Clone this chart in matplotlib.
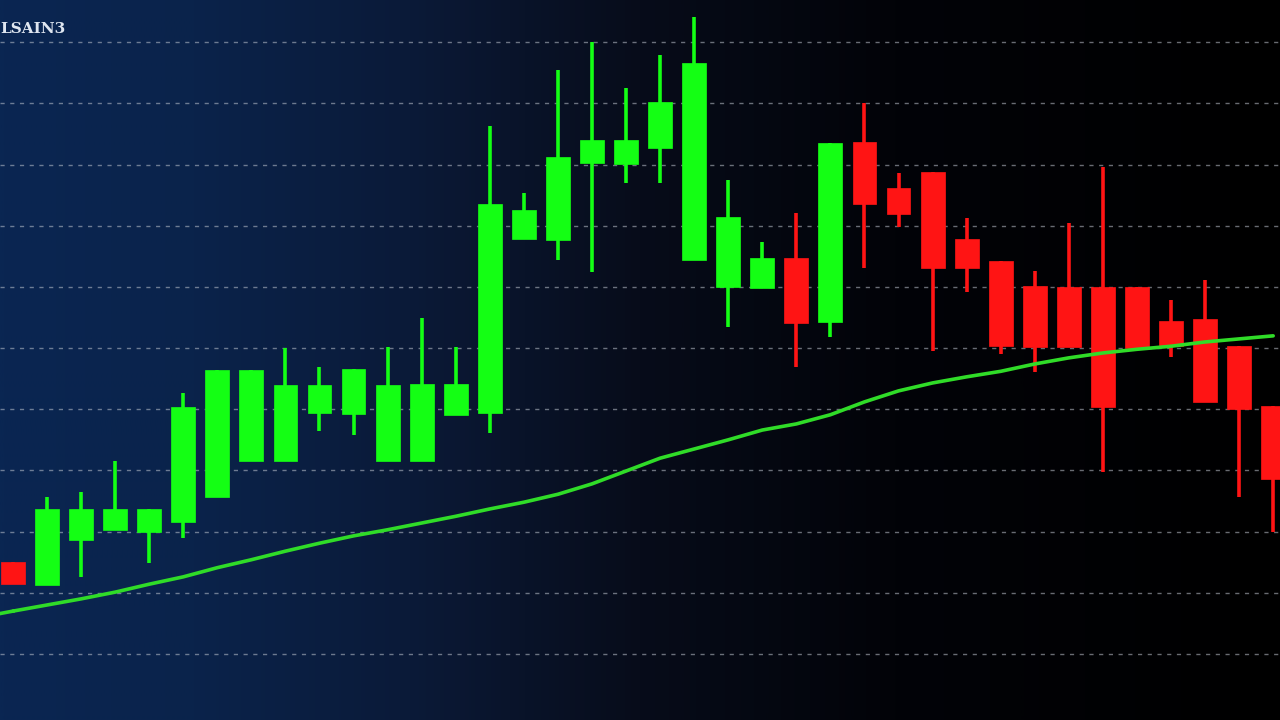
import matplotlib
matplotlib.use("Agg")
import matplotlib.pyplot as plt
import numpy as np
from matplotlib.colors import LinearSegmentedColormap

# candle data (price units, gridlines every 10)
opens = [115.0, 111.3, 118.6, 120.3, 119.9, 121.6, 125.7, 131.5, 131.5, 139.4,
         139.2, 131.5, 131.5, 139.1, 139.4, 167.8, 167.6, 180.2, 180.1, 182.7,
         164.4, 160.0, 159.8, 164.7, 154.2, 183.7, 176.1, 178.8, 167.8, 164.2,
         160.1, 160.0, 160.0, 160.0, 154.4, 154.7, 150.3, 140.5]
closes = [111.4, 123.7, 123.7, 123.7, 123.7, 140.4, 146.4, 146.4, 144.0, 144.0,
          146.6, 144.0, 144.1, 144.1, 173.5, 172.5, 181.2, 184.0, 184.0, 190.2,
          196.6, 171.4, 164.7, 154.1, 183.5, 173.5, 171.9, 163.1, 163.1, 150.3,
          150.2, 150.2, 140.4, 150.0, 150.3, 141.2, 140.0, 128.6]
highs = [115.0, 125.7, 126.5, 131.5, 123.7, 142.6, 146.4, 146.4, 150.0, 146.9,
         146.6, 150.2, 154.9, 150.2, 186.3, 175.3, 195.4, 200.0, 192.5, 197.9,
         204.1, 177.5, 167.3, 172.1, 183.5, 190.0, 178.6, 178.8, 171.2, 164.2,
         162.6, 170.4, 179.6, 160.0, 157.8, 161.1, 150.3, 140.5]
lows = [111.4, 111.3, 112.6, 120.3, 114.9, 119.0, 125.7, 131.5, 131.5, 136.4,
        135.8, 131.5, 131.5, 139.1, 136.1, 167.8, 164.4, 162.4, 177.0, 177.0,
        164.4, 153.4, 159.8, 146.9, 151.8, 163.1, 169.8, 149.5, 159.2, 149.0,
        146.1, 150.2, 129.7, 150.0, 148.5, 141.2, 125.7, 119.9]
moving_avg = [107.0, 108.0, 109.0, 110.1, 111.4, 112.6, 114.1, 115.4, 116.8, 118.1,
              119.3, 120.3, 121.4, 122.5, 123.7, 124.8, 126.1, 127.8, 129.9, 132.0,
              133.5, 135.0, 136.6, 137.6, 139.1, 141.2, 143.0, 144.3, 145.3, 146.2,
              147.4, 148.4, 149.2, 149.8, 150.3, 151.0, 151.5, 152.0]
grid_levels = [100, 110, 120, 130, 140, 150, 160, 170, 180, 190, 200]
label = "LSAIN3"

GREEN = "#14ff14"
RED = "#ff1414"

fig = plt.figure(figsize=(12.8, 7.2), dpi=100)
ax = fig.add_axes([0, 0, 1, 1])
x0, x1 = -0.38, 37.2
y0, y1 = 89.2, 206.9
ax.set_xlim(x0, x1)
ax.set_ylim(y0, y1)
ax.axis("off")

# background: navy on the left fading to black on the right
cmap = LinearSegmentedColormap.from_list(
    "bg", [(0.0, "#0a2652"), (0.15, "#0a234b"), (0.32, "#0b1a38"),
           (0.5, "#070c1a"), (0.7, "#020308"), (1.0, "#000000")])
grad = np.linspace(0, 1, 512).reshape(1, -1)
ax.imshow(grad, cmap=cmap, aspect="auto", extent=[x0, x1, y0, y1], zorder=0)

for lvl in grid_levels:
    ax.axhline(lvl, color="#c0c6d0", lw=1.0, ls=(0, (3, 4)), alpha=0.55, zorder=1)

idx = np.arange(len(opens))
o = np.array(opens)
c = np.array(closes)
colors = [GREEN if cc >= oo else RED for oo, cc in zip(o, c)]

ax.vlines(idx, lows, highs, colors=colors, lw=2.6, zorder=2)
ax.bar(idx, np.abs(c - o), bottom=np.minimum(o, c), width=0.7,
       color=colors, edgecolor=colors, lw=0.5, zorder=3)

# moving average, drawn from the left edge of the chart
ax.plot(idx, moving_avg, color="#30dc28", lw=2.6, zorder=4, solid_capstyle="round")
ax.plot([x0, idx[0]], [moving_avg[0] - 0.4, moving_avg[0]], color="#30dc28", lw=2.6, zorder=4)

fig.text(0.0, 0.96, label, color="#dfe6f0", fontsize=11, fontweight="bold",
         family="DejaVu Serif", ha="left", va="center")

fig.savefig("out.png", dpi=100)
